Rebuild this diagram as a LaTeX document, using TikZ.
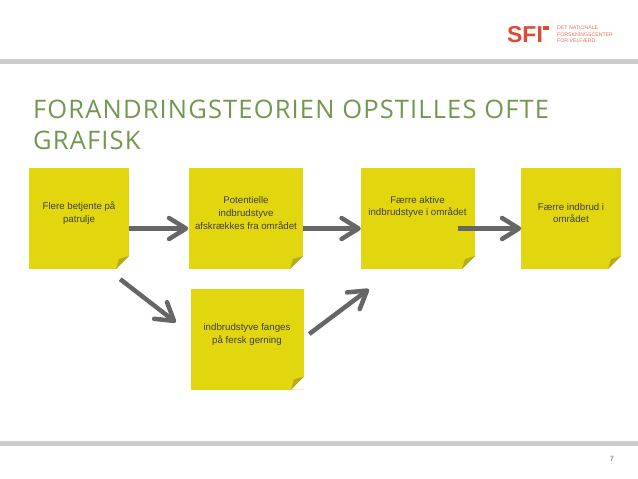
\documentclass[tikz,border=0pt]{standalone}
\usepackage{fontspec}
\setmainfont{Liberation Sans}
\newfontfamily\titlefont[LetterSpace=4.5]{Open Sans}
\usetikzlibrary{arrows.meta, positioning}
\definecolor{noteyellow}{HTML}{E2D60E}
\definecolor{foldyellow}{HTML}{B5AB1E}
\definecolor{titlegreen}{HTML}{72984F}
\definecolor{arrowgray}{HTML}{666666}
\definecolor{bargray}{HTML}{CCCCCC}
\definecolor{sfired}{HTML}{DC4B35}

\begin{document}
\begin{tikzpicture}[
        x=1pt, y=-1pt,
        note/.style={rectangle, fill=noteyellow, inner sep=0pt, minimum height=101pt,
            path picture={
                \fill[white] (path picture bounding box.south east) -- ([xshift=-13pt]path picture bounding box.south east) -- ([yshift=13pt]path picture bounding box.south east) -- cycle;
                \fill[foldyellow] ([xshift=-13pt]path picture bounding box.south east) -- ([xshift=-10pt, yshift=10pt]path picture bounding box.south east) -- ([yshift=13pt]path picture bounding box.south east) -- cycle;
            }},
        notetext/.style={font=\fontsize{9.7}{12.7}\selectfont, text=black!75, align=center, inner sep=0pt},
        arrow/.style={-{Straight Barb[length=17pt, width=21pt, line width=4.5pt, round]}, line width=4.5pt, draw=arrowgray},
        bar/.style={rectangle, fill=bargray, inner sep=0pt, minimum width=638pt, minimum height=5pt},
        ]
        \useasboundingbox (0,0) rectangle (638,479);

        % Bars and title
        \node[bar] (TopBar) at (319,61) {};
        \node[bar] (BottomBar) at (319,443.5) {};
        \node[anchor=north west, inner sep=0pt, align=left, text=titlegreen, font=\titlefont\fontsize{25.5}{30.5}\selectfont] (Title) at (33,100) {FORANDRINGSTEORIEN OPSTILLES OFTE\\GRAFISK};
        \node[text=black!60, font=\fontsize{7.5}{9}\selectfont, inner sep=0pt] (PageNo) at (612,459) {7};

        % Logo
        \node[text=sfired, font=\fontsize{23}{23}\bfseries\selectfont, inner sep=0pt] (LogoSFI) at (525,35) {SFI};
        \node[rectangle, fill=sfired, inner sep=0pt, minimum width=6pt, minimum height=4pt] (LogoDash) at (546,28) {};
        \node[anchor=west, text=sfired!80, font=\fontsize{5.2}{6.5}\selectfont, align=left, inner sep=0pt] (LogoText) at (557,34.5) {DET NATIONALE\\FORSKNINGSCENTER\\FOR VELFÆRD};

        % Notes
        \node[note, minimum width=100pt] (Betjente) at (79,218.5) {};
        \node[note, minimum width=114.5pt] (Afskraekkes) at (245.75,218.5) {};
        \node[note, minimum width=114pt] (Aktive) at (418,218.5) {};
        \node[note, minimum width=100.5pt] (Indbrud) at (570.75,218.5) {};
        \node[note, minimum width=113pt] (Fanges) at (247.5,339) {};

        % Note texts
        \node[notetext] (BetjenteText) at (79,213) {Flere betjente på\\patrulje};
        \node[notetext] (AfskraekkesText) at (246,213) {Potentielle\\indbrudstyve\\afskrækkes fra området};
        \node[notetext] (AktiveText) at (417.5,207) {Færre aktive\\indbrudstyve i området};
        \node[notetext] (IndbrudText) at (571,213) {Færre indbrud i\\området};
        \node[notetext] (FangesText) at (247,334.5) {indbrudstyve fanges\\på fersk gerning};

        % Arrows
        \draw[arrow] ([yshift=-10pt]Betjente.east) -- ([yshift=-10pt]Afskraekkes.west);
        \draw[arrow] ([yshift=-10pt]Afskraekkes.east) -- ([yshift=-10pt]Aktive.west);
        \draw[arrow] ([xshift=-17pt, yshift=-10pt]Aktive.east) -- ([xshift=1pt, yshift=-10pt]Indbrud.west);
        \draw[arrow] ([xshift=-9pt, yshift=-10pt]Betjente.south east) -- ([xshift=-15pt, yshift=-34pt]Fanges.north west);
        \draw[arrow] ([xshift=5pt, yshift=5pt]Fanges.east) -- ([xshift=8pt, yshift=-20pt]Aktive.south west);
\end{tikzpicture}
\end{document}
